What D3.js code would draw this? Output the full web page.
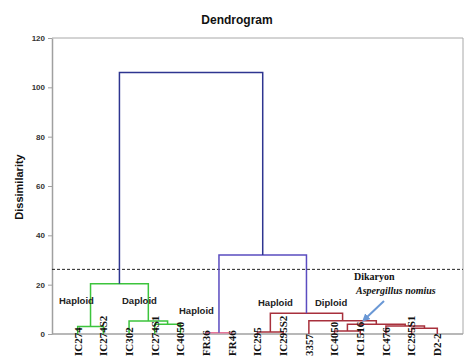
<!DOCTYPE html>
<html><head><meta charset="utf-8">
<script src="https://cdn.jsdelivr.net/npm/d3@7"></script>
<style>body{margin:0;background:#fff}</style>
</head><body>
<svg id="c" width="474" height="358"></svg>
<script>
// Data
const leaves = ["IC274","IC274S2","IC302","IC274S1","IC4050","FR36","FR46","IC295","IC295S2","3357","IC4050","IC1516","IC476","IC295S1","D2-2"];
// merges (node ids: leaves 0..14, merges 15..)
const mergeLeft   = [0, 3, 2, 15, 5, 7, 10, 13, 12, 21, 9, 20, 19, 18];
const mergeRight  = [1, 4, 16, 17, 6, 8, 11, 14, 22, 23, 24, 25, 26, 27];
const mergeHeight = [3.0, 4.0, 5.3, 20.4, 0.5, 0.8, 1.2, 2.3, 3.2, 4.0, 5.4, 8.4, 32, 106];
const mergeGroup  = ["g","g","g","g","p","r","r","r","r","r","r","r","v","n"];
const yTicks = [0,20,40,60,80,100,120];
const cutHeight = 26.2;
const annotations = [
  {t:"Haploid", x:59, y:304, f:"sans"},
  {t:"Daploid", x:122, y:304, f:"sans"},
  {t:"Haploid", x:179, y:314, f:"sans"},
  {t:"Haploid", x:258, y:306, f:"sans"},
  {t:"Diploid", x:315, y:306, f:"sans"},
];
const colors = {g:"#3cc43c", p:"#e8789c", r:"#a8303c", v:"#5a4cc0", n:"#2e3590"};

const svg = d3.select("#c");
const L=52, R=463, T=38, B=334;
const x = d3.scalePoint().domain(d3.range(leaves.length)).range([L,R]).padding(1);
const y = d3.scaleLinear().domain([0,120]).range([B,T]);

// title
svg.append("text").attr("x",237).attr("y",24).attr("text-anchor","middle")
  .attr("font-family","Liberation Sans, Arial, sans-serif").attr("font-weight","bold")
  .attr("font-size",12).attr("fill","#111").text("Dendrogram");

// frame
svg.append("path").attr("d",`M${L},${T}H${R}V${B}`).attr("fill","none").attr("stroke","#a8a8a8").attr("stroke-width",1);

// axes
const ya = d3.axisLeft(y).tickValues(yTicks).tickSize(4).tickSizeOuter(0);
const gy = svg.append("g").attr("transform",`translate(${L},0)`).call(ya);
gy.select(".domain").attr("stroke","#a0a0a0").attr("stroke-width",1.5);
gy.selectAll(".tick line").attr("stroke","#a0a0a0");
gy.selectAll(".tick text").attr("font-family","Liberation Sans, Arial, sans-serif").attr("font-size",8)
  .attr("font-weight","bold").attr("fill","#333").attr("x",-7);

const xa = d3.axisBottom(x).tickSize(0).tickFormat("");
const gx = svg.append("g").attr("transform",`translate(0,${B})`).call(xa);
gx.select(".domain").attr("stroke","#a0a0a0").attr("stroke-width",1.5).attr("d",`M${L},0H${R}`);

svg.append("text").attr("transform",`translate(23,187) rotate(-90)`).attr("text-anchor","middle")
  .attr("font-family","Liberation Sans, Arial, sans-serif").attr("font-weight","bold")
  .attr("font-size",11).attr("fill","#111").text("Dissimilarity");

// cut line
svg.append("line").attr("x1",L).attr("x2",R).attr("y1",y(cutHeight)).attr("y2",y(cutHeight))
  .attr("stroke","#222").attr("stroke-width",1).attr("stroke-dasharray","3,2");

// compute node positions
const nx = [], nh = [];
leaves.forEach((d,i)=>{nx[i]=x(i); nh[i]=0;});
mergeLeft.forEach((l,k)=>{
  const id = leaves.length+k, r = mergeRight[k];
  nx[id] = (nx[l]+nx[r])/2; nh[id] = mergeHeight[k];
});
mergeLeft.forEach((l,k)=>{
  const r = mergeRight[k], h = mergeHeight[k];
  svg.append("path")
    .attr("d",`M${nx[l]},${y(nh[l])}V${y(h)}H${nx[r]}V${y(nh[r])}`)
    .attr("fill","none").attr("stroke",colors[mergeGroup[k]]).attr("stroke-width",1.5);
});

// leaf labels
leaves.forEach((d,i)=>{
  svg.append("text").attr("transform",`translate(${x(i)},356) rotate(-90)`)
    .attr("dy","0.35em").attr("font-family","Liberation Serif, 'Times New Roman', serif")
    .attr("font-weight","bold").attr("font-size",11).attr("fill","#111").text(d);
});

// annotations
annotations.forEach(a=>{
  svg.append("text").attr("x",a.x).attr("y",a.y)
    .attr("font-family","Liberation Sans, Arial, sans-serif").attr("font-weight","bold")
    .attr("font-size",9.5).attr("fill","#222").text(a.t);
});
svg.append("text").attr("x",354).attr("y",280)
  .attr("font-family","Liberation Serif, 'Times New Roman', serif").attr("font-weight","bold")
  .attr("font-size",10).attr("fill","#111").text("Dikaryon");
svg.append("text").attr("x",356).attr("y",294)
  .attr("font-family","Liberation Serif, 'Times New Roman', serif").attr("font-weight","bold")
  .attr("font-style","italic").attr("font-size",10).attr("fill","#111").text("Aspergillus nomius");

// arrow
const defs = svg.append("defs");
defs.append("marker").attr("id","ah").attr("viewBox","0 0 10 10").attr("refX",5).attr("refY",5)
  .attr("markerWidth",4).attr("markerHeight",4).attr("orient","auto")
  .append("path").attr("d","M0,0L10,5L0,10z").attr("fill","#6a98d5");
svg.append("line").attr("x1",384).attr("y1",301).attr("x2",365).attr("y2",319)
  .attr("stroke","#6a98d5").attr("stroke-width",2).attr("marker-end","url(#ah)");
</script>
</body></html>
